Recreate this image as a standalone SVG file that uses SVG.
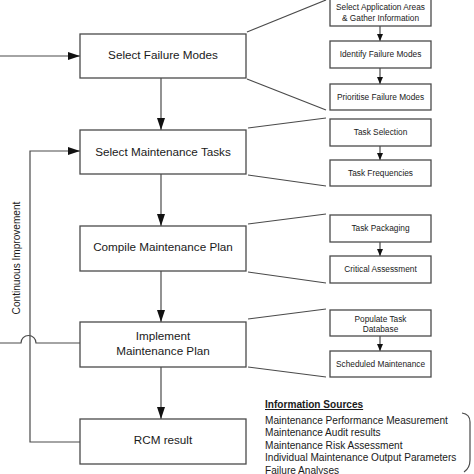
<svg xmlns="http://www.w3.org/2000/svg" width="474" height="474" viewBox="0 0 474 474">
<style>
.box{fill:#fff;stroke:#4a4a4a;stroke-width:1.3}
.ln{fill:none;stroke:#4a4a4a;stroke-width:1.2}
.mt{font-family:"Liberation Sans",Arial,sans-serif;font-size:11.7px;fill:#1a1a1a;text-anchor:middle}
.st{font-family:"Liberation Sans",Arial,sans-serif;font-size:8.3px;fill:#1a1a1a;text-anchor:middle}
.it{font-family:"Liberation Sans",Arial,sans-serif;font-size:10.1px;fill:#1a1a1a}
</style>
<defs>
<marker id="big" markerWidth="12" markerHeight="8" refX="12" refY="4" orient="auto" markerUnits="userSpaceOnUse"><path d="M0,0 L12,4 L0,8 Z" fill="#111"/></marker>
<marker id="sm" markerWidth="7" markerHeight="6" refX="7" refY="3" orient="auto" markerUnits="userSpaceOnUse"><path d="M0,0 L7,3 L0,6 Z" fill="#111"/></marker>
</defs>
<rect width="474" height="474" fill="#fff"/>
<g id="connectors">
<line class="ln" x1="0" y1="56" x2="80" y2="56" marker-end="url(#big)"/>
<line class="ln" x1="161" y1="78" x2="161" y2="130" marker-end="url(#big)"/>
<line class="ln" x1="161" y1="174" x2="161" y2="226" marker-end="url(#big)"/>
<line class="ln" x1="161" y1="271" x2="161" y2="322" marker-end="url(#big)"/>
<line class="ln" x1="161" y1="367" x2="161" y2="419" marker-end="url(#big)"/>
<path class="ln" d="M80,442 H30 V151 H80" marker-end="url(#big)"/>
<path class="ln" d="M0,343 H21 A7.5,7.5 0 0 1 36,343 H80"/>
<line class="ln" x1="380" y1="26" x2="380" y2="41" marker-end="url(#sm)"/>
<line class="ln" x1="380" y1="68" x2="380" y2="84" marker-end="url(#sm)"/>
<line class="ln" x1="380" y1="146" x2="380" y2="160" marker-end="url(#sm)"/>
<line class="ln" x1="380" y1="242" x2="380" y2="256" marker-end="url(#sm)"/>
<line class="ln" x1="380" y1="336" x2="380" y2="351" marker-end="url(#sm)"/>
<line class="ln" x1="247" y1="32" x2="326" y2="0"/>
<line class="ln" x1="247" y1="79" x2="326" y2="110"/>
<line class="ln" x1="248" y1="128" x2="326" y2="118"/>
<line class="ln" x1="248" y1="175" x2="326" y2="186"/>
<line class="ln" x1="248" y1="224" x2="326" y2="214"/>
<line class="ln" x1="248" y1="272" x2="326" y2="283"/>
<line class="ln" x1="248" y1="319" x2="326" y2="309"/>
<line class="ln" x1="248" y1="367" x2="326" y2="377"/>
</g>
<g id="n1"><rect class="box" x="80" y="34" width="166" height="44"/><text class="mt" x="163" y="59">Select Failure Modes</text></g>
<g id="n2"><rect class="box" x="80" y="130" width="166" height="44"/><text class="mt" x="163" y="156">Select Maintenance Tasks</text></g>
<g id="n3"><rect class="box" x="80" y="226" width="166" height="45"/><text class="mt" x="163" y="251">Compile Maintenance Plan</text></g>
<g id="n4"><rect class="box" x="80" y="322" width="166" height="45"/><text class="mt" x="163" y="340">Implement</text><text class="mt" x="163" y="355">Maintenance Plan</text></g>
<g id="n5"><rect class="box" x="80" y="419" width="166" height="45"/><text class="mt" x="163" y="444">RCM result</text></g>
<g id="s1"><rect class="box" x="330" y="-4" width="101" height="30"/><text class="st" x="380.5" y="10">Select Application Areas</text><text class="st" x="380.5" y="21">&amp; Gather Information</text></g>
<g id="s2"><rect class="box" x="330" y="41" width="101" height="27"/><text class="st" x="380.5" y="57">Identify Failure Modes</text></g>
<g id="s3"><rect class="box" x="330" y="84" width="101" height="26"/><text class="st" x="380.5" y="100">Prioritise Failure Modes</text></g>
<g id="s4"><rect class="box" x="330" y="119" width="101" height="27"/><text class="st" x="380.5" y="135">Task Selection</text></g>
<g id="s5"><rect class="box" x="330" y="160" width="101" height="26"/><text class="st" x="380.5" y="176">Task Frequencies</text></g>
<g id="s6"><rect class="box" x="330" y="215" width="101" height="27"/><text class="st" x="380.5" y="231">Task Packaging</text></g>
<g id="s7"><rect class="box" x="330" y="256" width="101" height="27"/><text class="st" x="380.5" y="272">Critical Assessment</text></g>
<g id="s8"><rect class="box" x="330" y="310" width="101" height="26"/><text class="st" x="380.5" y="322">Populate Task</text><text class="st" x="380.5" y="332">Database</text></g>
<g id="s9"><rect class="box" x="330" y="351" width="101" height="26"/><text class="st" x="380.5" y="367">Scheduled Maintenance</text></g>
<text class="it" transform="translate(20,258) rotate(-90)" text-anchor="middle">Continuous Improvement</text>
<g id="info">
<text class="it" x="265" y="408" font-weight="bold" text-decoration="underline">Information Sources</text>
<text class="it" x="265" y="424">Maintenance Performance Measurement</text>
<text class="it" x="265" y="436">Maintenance Audit results</text>
<text class="it" x="265" y="448.5">Maintenance Risk Assessment</text>
<text class="it" x="265" y="461">Individual Maintenance Output Parameters</text>
<text class="it" x="265" y="473.5">Failure Analyses</text>
<path class="ln" d="M462,413 Q470,414 470,422 L470,460 Q470,468 464,472"/>
</g>
</svg>
